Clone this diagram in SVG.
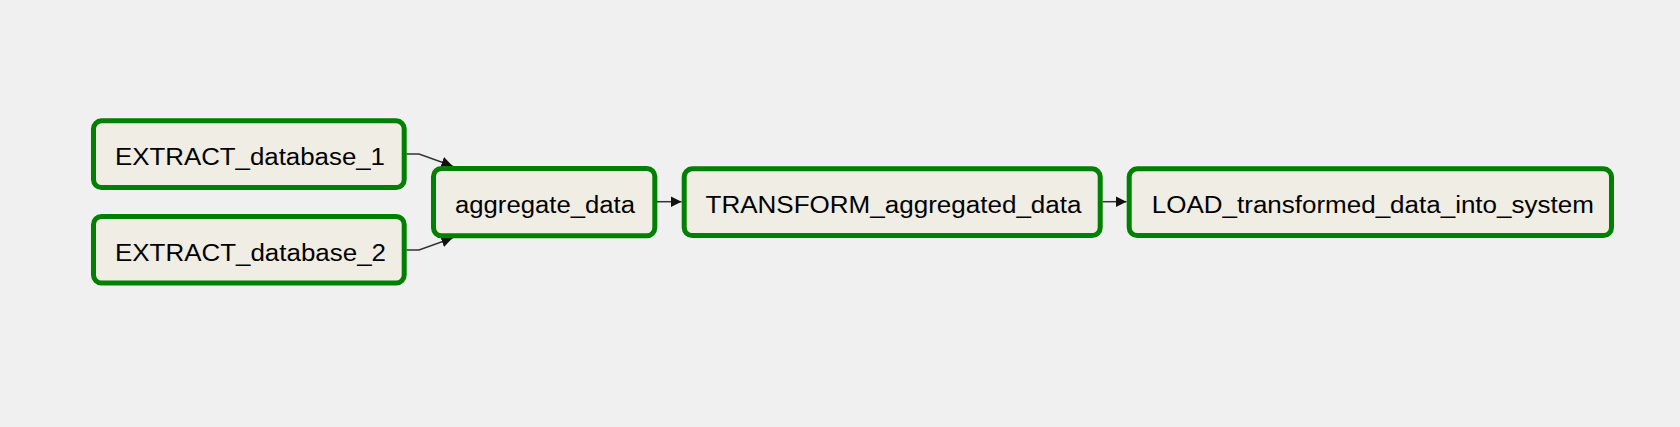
<svg xmlns="http://www.w3.org/2000/svg" width="1680" height="427" viewBox="0 0 1680 427">
  <style>
    .node rect { fill: #f0ede4; stroke: #008000; stroke-width: 5; }
    .node text { font-family: "Liberation Sans", Arial, sans-serif; font-size: 23.5px; fill: #000; text-anchor: middle; }
    .edge { fill: none; stroke: #333; stroke-width: 1.5; }
  </style>
  <defs>
    <marker id="arrow" markerUnits="userSpaceOnUse" markerWidth="11" markerHeight="11" viewBox="0 0 10 10" refX="10" refY="5" orient="auto">
      <path d="M0,0 L10,5 L0,10 z" fill="#111"/>
    </marker>
  </defs>
  <rect x="0" y="0" width="1680" height="427" fill="#f0f0f0"/>

  <g id="edges">
    <path class="edge" d="M406.5,154 L419,154 L452.5,166" marker-end="url(#arrow)"/>
    <path class="edge" d="M406.5,250 L419,250 L452.5,238" marker-end="url(#arrow)"/>
    <path class="edge" d="M657,201.7 L681.5,201.7" marker-end="url(#arrow)"/>
    <path class="edge" d="M1102.5,201.7 L1126.5,201.7" marker-end="url(#arrow)"/>
  </g>

  <g id="EXTRACT_database_1" class="node">
    <rect x="93.5" y="120.8" width="310.7" height="66.7" rx="8" ry="8"/>
    <text x="250" y="165" textLength="270" lengthAdjust="spacingAndGlyphs">EXTRACT_database_1</text>
  </g>
  <g id="EXTRACT_database_2" class="node">
    <rect x="93.5" y="216.5" width="310.7" height="66.5" rx="8" ry="8"/>
    <text x="250.5" y="260.5" textLength="271" lengthAdjust="spacingAndGlyphs">EXTRACT_database_2</text>
  </g>
  <g id="aggregate_data" class="node">
    <rect x="433.5" y="168.5" width="221.3" height="67.3" rx="8" ry="8"/>
    <text x="545" y="212.7" textLength="180" lengthAdjust="spacingAndGlyphs">aggregate_data</text>
  </g>
  <g id="TRANSFORM_aggregated_data" class="node">
    <rect x="684.2" y="168.8" width="416" height="66.8" rx="8" ry="8"/>
    <text x="893.5" y="212.7" textLength="376" lengthAdjust="spacingAndGlyphs">TRANSFORM_aggregated_data</text>
  </g>
  <g id="LOAD_transformed_data_into_system" class="node">
    <rect x="1129.2" y="168.8" width="482.3" height="66.8" rx="8" ry="8"/>
    <text x="1372.8" y="212.7" textLength="442" lengthAdjust="spacingAndGlyphs">LOAD_transformed_data_into_system</text>
  </g>
</svg>
